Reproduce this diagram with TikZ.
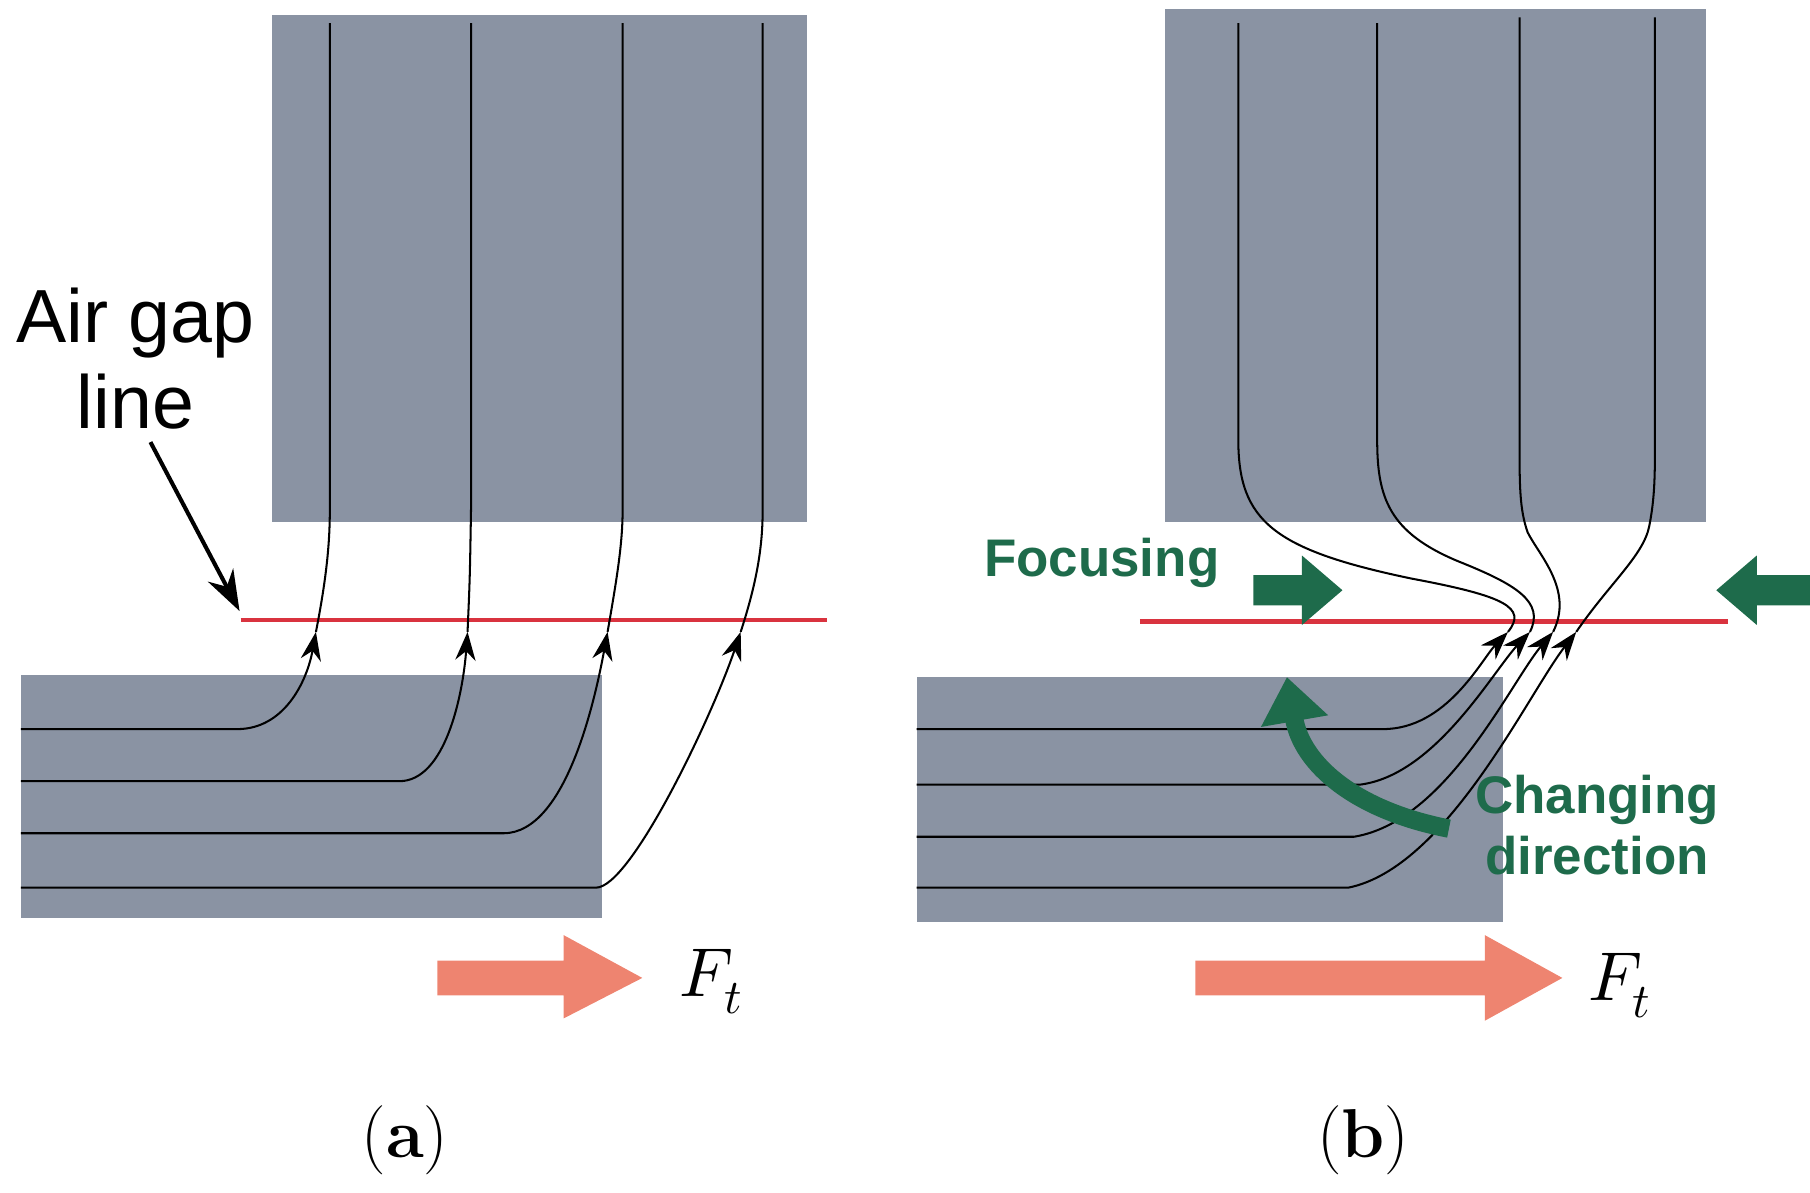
\documentclass[tikz,border=0pt]{standalone}
\usepackage{fontspec}
\newfontfamily\sansf{Liberation Sans}
\usepackage{unicode-math}
\setmathfont{Latin Modern Math}
\usetikzlibrary{arrows.meta}
\definecolor{steel}{HTML}{8A93A3}
\definecolor{gapred}{HTML}{D9333F}
\definecolor{force}{HTML}{EE8470}
\definecolor{dgreen}{HTML}{1E6B4B}
\begin{document}
\begin{tikzpicture}[x=0.01cm,y=-0.01cm,
  flux/.style={black, line width=0.5pt},
  fluxa/.style={flux, -{Stealth[length=7pt,width=5pt]}},
  block/.style={fill=steel, draw=none},
  gap/.style={gapred, line width=1pt},
  fat/.style={fill=force, draw=none},
  gfat/.style={fill=dgreen, draw=none},
  lbl/.style={font=\sansf\fontsize{18.5}{21}\selectfont, align=center},
  glbl/.style={font=\sansf\bfseries\fontsize{13}{15}\selectfont, text=dgreen, align=center},
  capt/.style={font=\fontsize{17}{20}\selectfont}]
\useasboundingbox (0,0) rectangle (1564,1030);
% ---------- (a)
\fill[block] (235,13) rectangle (697,451);
\fill[block] (18,583) rectangle (520,793);
\draw[gap] (208,536) -- (715,536);
\draw[fluxa] (18,630) -- (205,630) .. controls (245,630) and (265,590) .. (273,546);
\draw[flux] (273,546) .. controls (282,500) and (285,470) .. (285,440) -- (285,20);
\draw[fluxa] (18,675) -- (345,675) .. controls (385,675) and (400,600) .. (404,546);
\draw[flux] (404,546) .. controls (406,500) .. (407,440) -- (407,20);
\draw[fluxa] (18,720) -- (435,720) .. controls (490,720) and (515,600) .. (525,546);
\draw[flux] (525,546) .. controls (533,500) and (538,470) .. (538,440) -- (538,20);
\draw[fluxa] (18,767) -- (515,767) .. controls (545,767) and (615,620) .. (640,546);
\draw[flux] (640,546) .. controls (655,500) and (659,470) .. (659,440) -- (659,20);
\node[lbl] (air) at (117,310) {Air gap\\line};
\coordinate (airend) at (207,528);
\draw[black, line width=1pt, -{Stealth[length=10pt,width=7pt]}] (130,382) -- (airend);
\fill[fat] (378,830) -- (487,830) -- (487,808) -- (555,845) -- (487,880) -- (487,860) -- (378,860) -- cycle;
\node[capt] (fa) at (615,848) {$F_t$};
\node[capt] (ca) at (350,985) {(\textbf{a})};
% ---------- (b)
\fill[block] (1007,8) rectangle (1474,451);
\fill[block] (792,585) rectangle (1299,797);
\draw[gap] (985,537) -- (1493,537);
\draw[fluxa] (792,630) -- (1195,630) .. controls (1250,630) and (1280,570) .. (1303,546);
\draw[fluxa] (792,678) -- (1175,678) .. controls (1240,670) and (1290,580) .. (1322,546);
\draw[fluxa] (792,723) -- (1170,723) .. controls (1250,710) and (1305,590) .. (1342,546);
\draw[fluxa] (792,767) -- (1165,767) .. controls (1250,750) and (1320,600) .. (1362,546);
\draw[flux] (1303,546) .. controls (1320,525) and (1300,515) .. (1220,500) .. controls (1100,475) and (1070,450) .. (1070,380) -- (1070,20);
\draw[flux] (1322,546) .. controls (1335,520) and (1310,505) .. (1260,485) .. controls (1200,460) and (1190,430) .. (1190,380) -- (1190,20);
\draw[flux] (1342,546) .. controls (1360,510) and (1330,480) .. (1320,460) .. controls (1313,440) and (1313,420) .. (1313,380) -- (1313,15);
\draw[flux] (1362,546) .. controls (1390,505) and (1420,480) .. (1425,455) .. controls (1430,430) and (1430,410) .. (1430,380) -- (1430,15);
\node[glbl] (foc) at (952,486) {Focusing};
\fill[gfat] (1083,497) -- (1125,497) -- (1125,480) -- (1160,510) -- (1125,540) -- (1125,523) -- (1083,523) -- cycle;
\fill[gfat] (1564,497) -- (1518,497) -- (1518,480) -- (1483,510) -- (1518,540) -- (1518,523) -- (1564,523) -- cycle;
\node[glbl] (chg) at (1380,713) {Changing\\direction};
\coordinate (cs) at (1252,716);
\coordinate (ce) at (1112,585);
\draw[dgreen, line width=4.5pt, -{Triangle[length=11pt,width=16pt]}] (cs) .. controls (1170,700) and (1125,660) .. (ce);
\fill[fat] (1033,830) -- (1283,830) -- (1283,808) -- (1350,845) -- (1283,882) -- (1283,860) -- (1033,860) -- cycle;
\node[capt] (fb) at (1400,852) {$F_t$};
\node[capt] (cb) at (1178,985) {(\textbf{b})};
\end{tikzpicture}
\end{document}
